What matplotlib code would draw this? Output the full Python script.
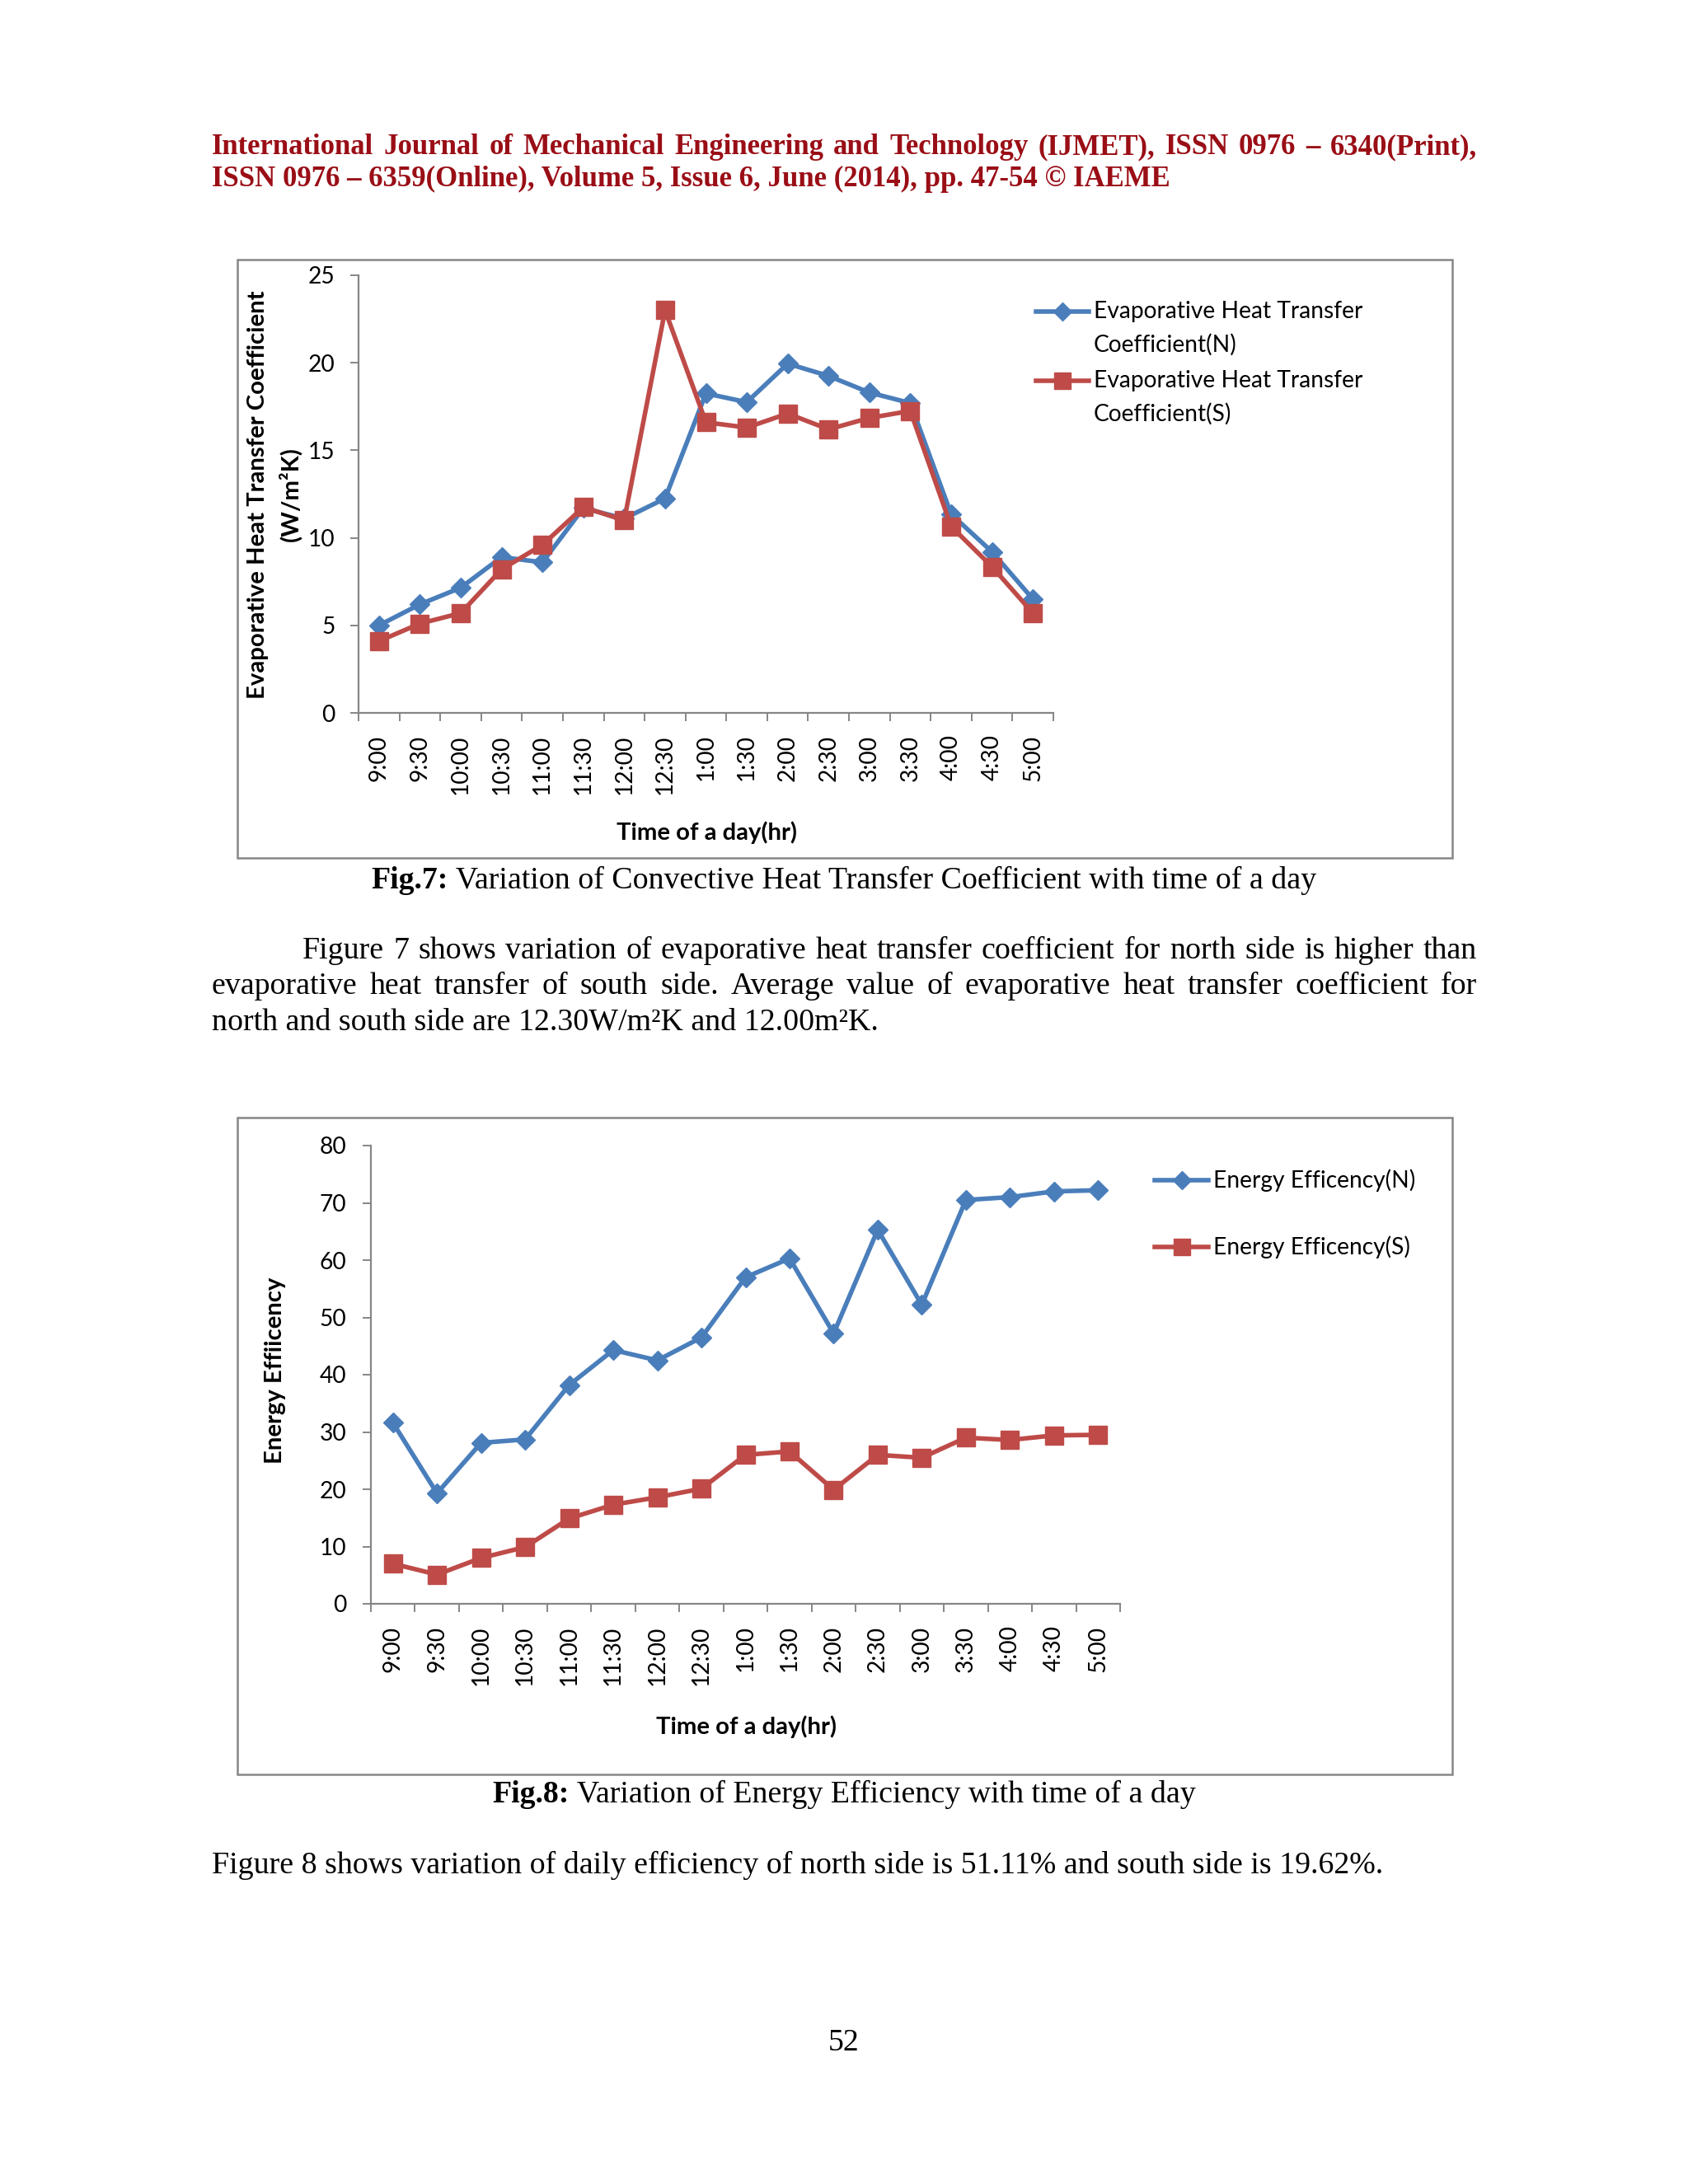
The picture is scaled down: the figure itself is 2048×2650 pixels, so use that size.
import numpy as np
import matplotlib
matplotlib.use("Agg")
import matplotlib.pyplot as plt
from matplotlib.lines import Line2D
from matplotlib.patches import Rectangle

# ---------------- data ----------------
times = ["9:00", "9:30", "10:00", "10:30", "11:00", "11:30", "12:00", "12:30",
         "1:00", "1:30", "2:00", "2:30", "3:00", "3:30", "4:00", "4:30", "5:00"]
evap_north = [5.0, 6.2, 7.15, 8.9, 8.6, 11.7, 11.1, 12.25, 18.25, 17.75,
              19.95, 19.25, 18.3, 17.7, 11.35, 9.2, 6.5]
evap_south = [4.1, 5.1, 5.7, 8.2, 9.6, 11.75, 11.0, 23.0, 16.6, 16.3,
              17.1, 16.2, 16.85, 17.25, 10.65, 8.35, 5.7]
eff_north = [31.6, 19.3, 28.1, 28.7, 38.2, 44.3, 42.5, 46.5, 57.0, 60.3,
             47.2, 65.3, 52.2, 70.5, 71.0, 72.0, 72.2]
eff_south = [7.0, 5.1, 8.0, 9.9, 14.9, 17.3, 18.6, 20.1, 26.0, 26.6,
             19.9, 26.0, 25.5, 29.0, 28.6, 29.4, 29.5]

evap_ticks = [0, 5, 10, 15, 20, 25]
eff_ticks = [0, 10, 20, 30, 40, 50, 60, 70, 80]

header_lines = [
    "International Journal of Mechanical Engineering and Technology (IJMET), ISSN 0976 – 6340(Print),",
    "ISSN 0976 – 6359(Online), Volume 5, Issue 6, June (2014), pp. 47-54 © IAEME",
]
para1 = [
    "Figure 7 shows variation of evaporative heat transfer coefficient for north side is higher than",
    "evaporative heat transfer of south side. Average value of evaporative heat transfer coefficient for",
    "north and south side are 12.30W/m²K and 12.00m²K.",
]
para2 = "Figure 8 shows variation of daily efficiency of north side is 51.11% and south side is 19.62%."
cap7 = ("Fig.7:", " Variation of Convective Heat Transfer Coefficient with time of a day")
cap8 = ("Fig.8:", " Variation of Energy Efficiency with time of a day")

# ---------------- setup ----------------
W, H = 2048, 2650
fig = plt.figure(figsize=(W / 100, H / 100), dpi=100)
fig.patch.set_facecolor("white")
renderer = fig.canvas.get_renderer()

SERIF = "Liberation Serif"
SANS = "Lato"
BLUE = "#4A7EBB"
RED = "#BE4B48"
AXC = "#868686"
HDR = "#9A0E16"


def fx(x):
    return x / W


def fy(y):
    return 1 - y / H


def text_width(s, **kw):
    t = fig.text(0, 0, s, **kw)
    w = t.get_window_extent(renderer).width
    t.remove()
    return w


def fit_size(s, target, base=20.0, **kw):
    return base * target / text_width(s, fontsize=base, **kw)


def justify(line, x0, x1, y, size, **kw):
    words = line.split(" ")
    widths = [text_width(w, fontsize=size, **kw) for w in words]
    gap = (x1 - x0 - sum(widths)) / (len(words) - 1)
    x = x0
    for wd, ww in zip(words, widths):
        fig.text(fx(x), fy(y), wd, fontsize=size, ha="left", va="baseline", **kw)
        x += ww + gap


def caption(parts, xc, y, size):
    wb = text_width(parts[0], fontsize=size, family=SERIF, weight="bold")
    wr = text_width(parts[1], fontsize=size, family=SERIF)
    x = xc - (wb + wr) / 2
    fig.text(fx(x), fy(y), parts[0], fontsize=size, family=SERIF, weight="bold",
             ha="left", va="baseline")
    fig.text(fx(x + wb), fy(y), parts[1], fontsize=size, family=SERIF,
             ha="left", va="baseline")


# ---------------- page text ----------------
hsize = fit_size(header_lines[1], 1163, family=SERIF, weight="bold")
justify(header_lines[0], 257, 1792, 187, hsize, family=SERIF, weight="bold", color=HDR)
fig.text(fx(257), fy(226), header_lines[1], fontsize=hsize, family=SERIF,
         weight="bold", color=HDR, ha="left", va="baseline")

bsize = fit_size(para2, 1419, family=SERIF)
caption(cap7, 1024, 1078, bsize)
justify(para1[0], 367, 1792, 1163, bsize, family=SERIF)
justify(para1[1], 257, 1792, 1206, bsize, family=SERIF)
fig.text(fx(257), fy(1249), para1[2], fontsize=bsize, family=SERIF,
         ha="left", va="baseline")
caption(cap8, 1024, 2187, bsize)
fig.text(fx(257), fy(2273), para2, fontsize=bsize, family=SERIF,
         ha="left", va="baseline")
fig.text(fx(1024), fy(2488), "52", fontsize=bsize, family=SERIF,
         ha="center", va="baseline")

# ---------------- chart boxes ----------------
for (x0, y0, x1, y1) in [(288, 315, 1762, 1041), (288, 1356, 1762, 2153)]:
    fig.add_artist(Rectangle((fx(x0), fy(y1)), (x1 - x0) / W, (y1 - y0) / H,
                             transform=fig.transFigure, fill=False,
                             ec=AXC, lw=1.8))

csize = fit_size("Energy Efficency(N)", 245, family=SANS)
lsize = fit_size("Time of a day(hr)", 219, family=SANS, weight="bold")

x = np.arange(len(times))


def make_axes(x0, x1, ytop, ybot, ymax, yticks, north, south, ypad):
    ax = fig.add_axes([fx(x0), fy(ybot), (x1 - x0) / W, (ybot - ytop) / H])
    ax.set_facecolor("none")
    ax.plot(x, north, color=BLUE, lw=4.0, marker="D", ms=12.5, mfc=BLUE,
            mec=BLUE, clip_on=False, zorder=3)
    ax.plot(x, south, color=RED, lw=4.0, marker="s", ms=15.5, mfc=RED,
            mec=RED, clip_on=False, zorder=4)
    ax.set_xlim(-0.5, len(times) - 0.5)
    ax.set_ylim(0, ymax)
    for s in ["top", "right"]:
        ax.spines[s].set_visible(False)
    for s in ["left", "bottom"]:
        ax.spines[s].set_color(AXC)
        ax.spines[s].set_linewidth(1.6)
    ax.set_yticks(yticks)
    ax.set_yticklabels([str(v) for v in yticks], family=SANS, fontsize=csize)
    ax.tick_params(axis="y", direction="out", length=7, width=1.4, color=AXC,
                   pad=ypad)
    ax.set_xticks(np.arange(-0.5, len(times), 1.0))
    ax.set_xticklabels([])
    ax.set_xticks(x, minor=True)
    ax.set_xticklabels(times, minor=True, rotation=90, family=SANS,
                       fontsize=csize, va="top", ha="center")
    ax.tick_params(axis="x", which="major", direction="out", length=7.5,
                   width=1.4, color=AXC)
    ax.tick_params(axis="x", which="minor", length=0, pad=19)
    return ax


ax1 = make_axes(435, 1278, 334, 865, 25, evap_ticks, evap_north, evap_south, 13.5)
ax2 = make_axes(450, 1359, 1390, 1946, 80, eff_ticks, eff_north, eff_south, 14.5)

# axis titles
fig.text(fx(857), fy(1010), "Time of a day(hr)", fontsize=lsize, family=SANS,
         weight="bold", ha="center", va="center")
fig.text(fx(905), fy(2095), "Time of a day(hr)", fontsize=lsize, family=SANS,
         weight="bold", ha="center", va="center")
fig.text(fx(313), fy(600), "Evaporative Heat Transfer Coefficient", fontsize=lsize,
         family=SANS, weight="bold", rotation=90, ha="center", va="center")
fig.text(fx(352), fy(600), "(W/m²K)", fontsize=lsize, family=SANS,
         weight="bold", rotation=90, ha="center", va="center")
fig.text(fx(334), fy(1663), "Energy Effiicency", fontsize=lsize, family=SANS,
         weight="bold", rotation=90, ha="center", va="center")


# legends (drawn as legend glyphs + text)
def legend_entry(x0, x1, y, color, marker, ms, lines, spacing):
    fig.add_artist(Line2D([fx(x0), fx(x1)], [fy(y), fy(y)], color=color, lw=4.0,
                          transform=fig.transFigure))
    fig.add_artist(Line2D([fx((x0 + x1) / 2)], [fy(y)], color=color, marker=marker,
                          ms=ms, mfc=color, mec=color, lw=0,
                          transform=fig.transFigure))
    for i, s in enumerate(lines):
        fig.text(fx(x1 + 6), fy(y + i * spacing), s, fontsize=csize, family=SANS,
                 ha="left", va="center")


legend_entry(1257, 1321, 378, BLUE, "D", 11, ["Evaporative Heat Transfer", "Coefficient(N)"], 40)
legend_entry(1257, 1321, 462, RED, "s", 14, ["Evaporative Heat Transfer", "Coefficient(S)"], 40)
legend_entry(1401, 1466, 1432, BLUE, "D", 11, ["Energy Efficency(N)"], 40)
legend_entry(1401, 1466, 1513, RED, "s", 14, ["Energy Efficency(S)"], 40)

fig.savefig("out.png", dpi=100, facecolor="white")
